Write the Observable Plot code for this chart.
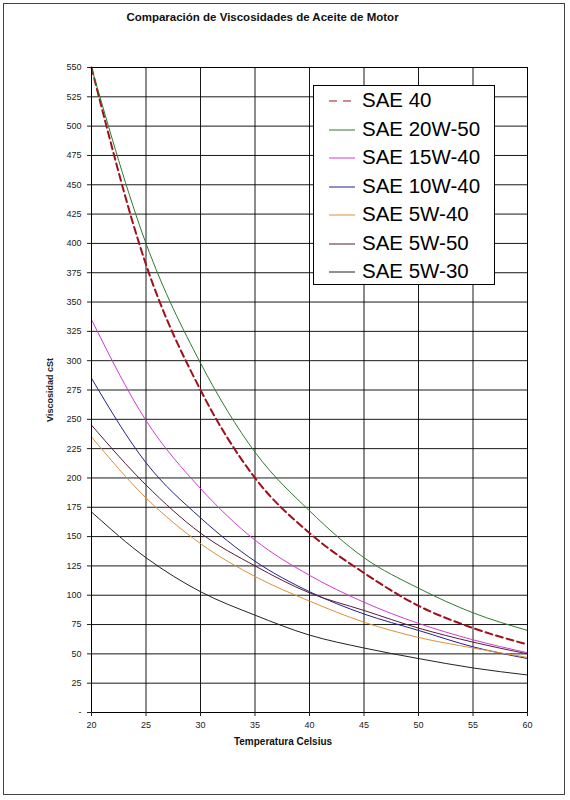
<!DOCTYPE html>
<html>
<head>
<meta charset="utf-8">
<script src="https://cdn.jsdelivr.net/npm/d3@7"></script>
<script src="https://cdn.jsdelivr.net/npm/@observablehq/plot@0.6"></script>
<style>
  body { margin: 0; background: #fff; font-family: Arial, "Liberation Sans", sans-serif; }
  #wrap { position: relative; width: 570px; height: 800px; }
  #borde { position: absolute; left: 3px; top: 3px; width: 560px; height: 790px; border: 1px solid #444; pointer-events: none; }
  #titulo { position: absolute; left: 0; width: 525px; top: 11px; text-align: center; font-weight: bold; font-size: 11.5px; color: #111; }
  #etiquetaX { position: absolute; left: 0; width: 566px; top: 736px; text-align: center; font-weight: bold; font-size: 10px; color: #111; }
  #leyenda { position: absolute; left: 313px; top: 85px; width: 180px; height: 198px; border: 1px solid #000; background: #fff; }
  .fila { position: absolute; left: 0; height: 28.5px; width: 100%; }
  .fila svg { position: absolute; left: 15px; top: 13px; }
  .fila span { position: absolute; left: 48px; top: 2px; font-size: 20.5px; color: #000; line-height: 24px; }
  #chart svg [aria-label="y-axis label"] text { font-weight: bold; }
</style>
</head>
<body>
<div id="wrap">
  <div id="chart"></div>
  <div id="borde"></div>
  <div id="titulo">Comparación de Viscosidades de Aceite de Motor</div>
  <div id="etiquetaX">Temperatura Celsius</div>
  <div id="leyenda"></div>
</div>
<script>
// temperaturas (°C) y viscosidades (cSt)
const temperaturas = [20, 25, 30, 35, 40, 45, 50, 55, 60];
const sae40    = [550, 382, 275, 200, 153, 119, 91, 72, 58];
const sae20w50 = [550, 400, 298, 222, 172, 132, 106, 85, 70];
const sae15w40 = [335, 249, 191, 147, 117, 94, 76, 62, 51];
const sae10w40 = [285, 213, 166, 129, 103, 84, 70, 56, 46];
const sae5w40  = [235, 183, 144, 116, 95, 77, 64, 55, 47];
const sae5w50  = [245, 194, 153, 125, 102, 87, 72, 60, 50];
const sae5w30  = [171, 132, 103, 83, 66, 55, 46, 38, 32];

const nombres = ['SAE 40', 'SAE 20W-50', 'SAE 15W-40', 'SAE 10W-40', 'SAE 5W-40', 'SAE 5W-50', 'SAE 5W-30'];
const colores = ['#a0101a', '#2f7a2f', '#d23cd2', '#22228a', '#d9923a', '#5a1a3a', '#222222'];

const ticksX = [20, 25, 30, 35, 40, 45, 50, 55, 60];
const ticksY = d3.range(0, 551, 25);

const series = [
  { nombre: nombres[0], valores: sae40, color: colores[0], guion: '7,4', grosor: 2 },
  { nombre: nombres[1], valores: sae20w50, color: colores[1], guion: null, grosor: 1 },
  { nombre: nombres[2], valores: sae15w40, color: colores[2], guion: null, grosor: 1 },
  { nombre: nombres[3], valores: sae10w40, color: colores[3], guion: null, grosor: 1 },
  { nombre: nombres[4], valores: sae5w40, color: colores[4], guion: null, grosor: 1 },
  { nombre: nombres[5], valores: sae5w50, color: colores[5], guion: null, grosor: 1 },
  { nombre: nombres[6], valores: sae5w30, color: colores[6], guion: null, grosor: 1 },
];

const lineas = series.map((s) => {
  const datos = temperaturas.map((t, i) => ({ t: t, v: s.valores[i] }));
  return Plot.line(datos, {
    x: 't',
    y: 'v',
    curve: 'monotone-x',
    stroke: s.color,
    strokeWidth: s.grosor,
    strokeDasharray: s.guion,
  });
});

let chart = Plot.plot({
  width: 570,
  height: 800,
  marginLeft: 91,
  marginRight: 43,
  marginTop: 67,
  marginBottom: 88,
  style: { fontFamily: 'Arial, "Liberation Sans", sans-serif', fontSize: '9px', color: '#222' },
  x: { domain: [20, 60] },
  y: { domain: [0, 550] },
  marks: [
    Plot.gridX(ticksX, { stroke: '#000', strokeOpacity: 0.9 }),
    Plot.gridY(ticksY, { stroke: '#000', strokeOpacity: 0.9 }),
    ...lineas,
    Plot.frame({ stroke: '#000' }),
    Plot.axisX({ ticks: ticksX, tickSize: 4, tickPadding: 5, label: null }),
    Plot.axisY({
      ticks: ticksY,
      tickSize: 4,
      tickPadding: 6,
      tickFormat: (d) => (d === 0 ? '-' : d),
      label: 'Viscosidad cSt',
      labelAnchor: 'center',
      labelArrow: 'none',
      labelOffset: 45,
    }),
  ],
});

d3.select('#chart').append(() => chart);

// leyenda
const leyenda = d3.select('#leyenda');
series.forEach((s, i) => {
  const fila = leyenda.append('div').attr('class', 'fila').style('top', `${i * 28.5}px`);
  const muestra = fila.append('svg').attr('width', 26).attr('height', 4);
  muestra.append('line')
    .attr('x1', 0).attr('x2', 26).attr('y1', 2).attr('y2', 2)
    .attr('stroke', s.color)
    .attr('stroke-width', 1)
    .attr('stroke-dasharray', s.guion ? '8,6' : null);
  fila.append('span').text(s.nombre);
});
</script>
</body>
</html>
